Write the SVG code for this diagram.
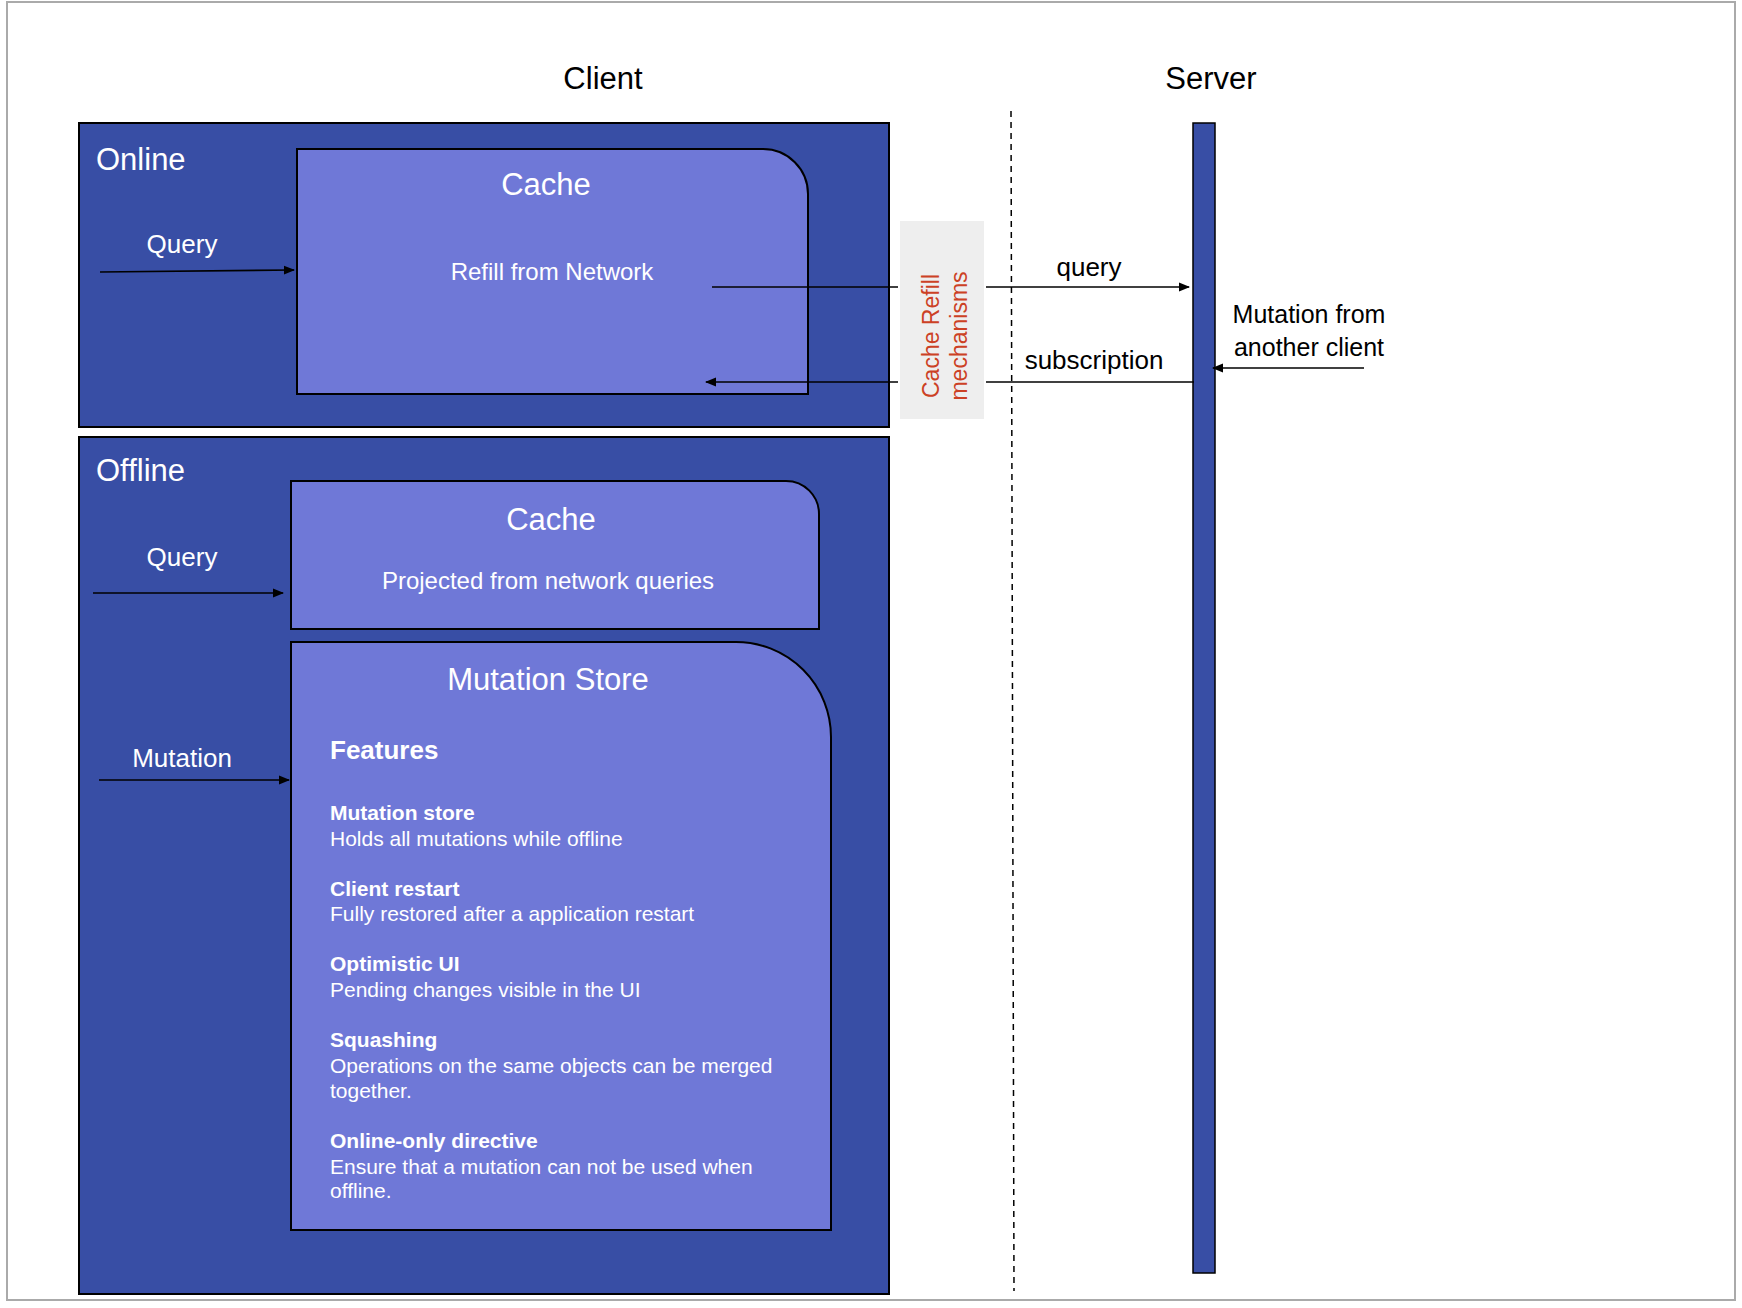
<svg xmlns="http://www.w3.org/2000/svg" width="1742" height="1308" viewBox="0 0 1742 1308">
<defs>
<style>
text{font-family:"Liberation Sans",Arial,sans-serif}
.w{fill:#fff}
.k{fill:#000}
.dark{fill:#384ea5;stroke:#000;stroke-width:2}
.light{fill:#6f78d7;stroke:#000;stroke-width:2}
.ln{stroke:#000;stroke-width:1.6;fill:none}
.sm{font-size:21px}
.b{font-weight:bold}
</style>
<marker id="ah" viewBox="0 0 10 10" refX="9" refY="5" markerWidth="7" markerHeight="7" orient="auto"><path d="M0,1 L10,5 L0,9 z" fill="#000"/></marker>
</defs>
<rect width="1742" height="1308" fill="#fff"/>
<rect x="7" y="2" width="1728" height="1298" fill="none" stroke="#aaa" stroke-width="2"/>
<text x="603" y="89" font-size="31" text-anchor="middle" class="k">Client</text>
<text x="1211" y="89" font-size="31" text-anchor="middle" class="k">Server</text>

<g id="online">
<rect class="dark" x="79" y="123" width="810" height="304"/>
<text x="96" y="170" font-size="31" class="w">Online</text>
<text x="182" y="253" font-size="26" text-anchor="middle" class="w">Query</text>
</g>
<g id="online-cache">
<path class="light" d="M297,149 H763 A45,45 0 0 1 808,194 V394 H297 Z"/>
<text x="546" y="195" font-size="31" text-anchor="middle" class="w">Cache</text>
<text x="552" y="280" font-size="24" text-anchor="middle" class="w">Refill from Network</text>
</g>
<g id="offline">
<rect class="dark" x="79" y="437" width="810" height="857"/>
<text x="96" y="481" font-size="31" class="w">Offline</text>
<text x="182" y="566" font-size="26" text-anchor="middle" class="w">Query</text>
<text x="182" y="767" font-size="26" text-anchor="middle" class="w">Mutation</text>
</g>
<g id="offline-cache">
<path class="light" d="M291,481 H786 A33,33 0 0 1 819,514 V629 H291 Z"/>
<text x="551" y="530" font-size="31" text-anchor="middle" class="w">Cache</text>
<text x="548" y="589" font-size="24" text-anchor="middle" class="w">Projected from network queries</text>
</g>
<g id="mutation-store">
<path class="light" d="M291,642 H736 A95,95 0 0 1 831,737 V1230 H291 Z"/>
<text x="548" y="690" font-size="31" text-anchor="middle" class="w">Mutation Store</text>
<text x="330" y="759" font-size="26" class="w b">Features</text>
<text x="330" y="820" class="w sm b">Mutation store</text>
<text x="330" y="846" class="w sm">Holds all mutations while offline</text>
<text x="330" y="896" class="w sm b">Client restart</text>
<text x="330" y="921" class="w sm">Fully restored after a application restart</text>
<text x="330" y="971" class="w sm b">Optimistic UI</text>
<text x="330" y="997" class="w sm">Pending changes visible in the UI</text>
<text x="330" y="1047" class="w sm b">Squashing</text>
<text x="330" y="1073" class="w sm">Operations on the same objects can be merged</text>
<text x="330" y="1098" class="w sm">together.</text>
<text x="330" y="1148" class="w sm b">Online-only directive</text>
<text x="330" y="1174" class="w sm">Ensure that a mutation can not be used when</text>
<text x="330" y="1198" class="w sm">offline.</text>
</g>
<g id="cache-refill">
<rect x="900" y="221" width="84" height="198" fill="#eeeeee"/>
<text transform="translate(939,336) rotate(-90)" font-size="23" text-anchor="middle" fill="#cc4125">Cache Refill</text>
<text transform="translate(967,336) rotate(-90)" font-size="23" text-anchor="middle" fill="#cc4125">mechanisms</text>
</g>
<g id="server">
<rect x="1193" y="123" width="22" height="1150" fill="#384ea5" stroke="#000" stroke-width="1.5"/>
</g>
<g id="labels">
<text x="1089" y="276" font-size="26" text-anchor="middle" class="k">query</text>
<text x="1094" y="369" font-size="26" text-anchor="middle" class="k">subscription</text>
<text x="1309" y="323" font-size="25" text-anchor="middle" class="k">Mutation from</text>
<text x="1309" y="356" font-size="25" text-anchor="middle" class="k">another client</text>
</g>
<g id="connectors">
<line x1="1011" y1="111" x2="1014" y2="1291" stroke="#000" stroke-width="1.5" stroke-dasharray="6,5"/>
<line class="ln" x1="100" y1="272" x2="294" y2="270" marker-end="url(#ah)"/>
<line class="ln" x1="93" y1="593" x2="283" y2="593" marker-end="url(#ah)"/>
<line class="ln" x1="99" y1="780" x2="289" y2="780" marker-end="url(#ah)"/>
<line class="ln" x1="712" y1="287" x2="898" y2="287"/>
<line class="ln" x1="986" y1="287" x2="1189" y2="287" marker-end="url(#ah)"/>
<line class="ln" x1="1194" y1="382" x2="986" y2="382"/>
<line class="ln" x1="898" y1="382" x2="706" y2="382" marker-end="url(#ah)"/>
<line class="ln" x1="1364" y1="368" x2="1213" y2="368" marker-end="url(#ah)"/>
</g>
</svg>
